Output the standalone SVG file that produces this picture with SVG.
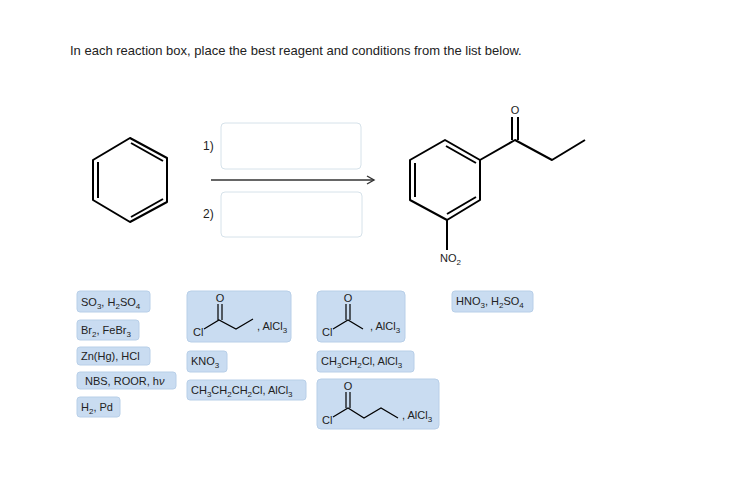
<svg xmlns="http://www.w3.org/2000/svg" width="754" height="494" viewBox="0 0 754 494">
<style>
text{font-family:"Liberation Sans",Arial,sans-serif;fill:#222}
.t{font-size:12px}
.s{font-size:11px}
.b{stroke:#000;stroke-width:2;fill:none;stroke-linejoin:round}
.m{stroke:#000;stroke-width:1.2;fill:none}
.chip{fill:#c9dcf1;stroke:#b8cfe8;stroke-width:1}
.slot{fill:#fff;stroke:#d6e2ea;stroke-width:1}
</style>
<defs><marker id="ah" markerWidth="10" markerHeight="10" refX="8" refY="5" orient="auto" markerUnits="userSpaceOnUse"><path d="M1,1 L8,5 L1,9" fill="none" stroke="#333" stroke-width="1.4"/></marker></defs>
<rect width="754" height="494" fill="#fff"/>
<text x="70" y="55" style="font-size:13px">In each reaction box, place the best reagent and conditions from the list below.</text>
<g id="benzene">
<path class="b" d="M130,138 L167,158 L167,202 L130,222 L93,200 L93,160 Z"/>
<path class="b" d="M98,162 L98,198 M131,143 L163,161 M163,199 L131,217"/>
</g>
<g id="slots">
<text x="203" y="150" class="t">1)</text>
<rect class="slot" x="221" y="123" width="140" height="46" rx="4"/>
<text x="203" y="218" class="t">2)</text>
<rect class="slot" x="221" y="192" width="141" height="45" rx="4"/>
</g>
<g id="connectors"><line x1="211" y1="180" x2="374" y2="180" stroke="#333" stroke-width="1.4" marker-end="url(#ah)"/></g>
<g id="product">
<path class="b" d="M445,140 L480,160 L480,200 L447,220 L410,200 L410,160 Z"/>
<path class="b" d="M415,163 L415,197 M446,146 L476,163 M476,197 L447,214"/>
<path class="b" d="M480,160 L515,140 L552,160 L585,140 M447,220 L447,250"/>
<path class="b" d="M512,140 L512,117 M518,140 L518,117"/>
<text x="515" y="114" text-anchor="middle" class="s">O</text>
<text x="440" y="262" class="s">NO<tspan font-size="8" dy="3">2</tspan></text>
</g>
<g id="r1"><rect class="chip" x="77" y="291" width="73" height="21" rx="3"/><text x="81" y="306" class="s">SO<tspan font-size="8" dy="3">3</tspan><tspan dy="-3">, H</tspan><tspan font-size="8" dy="3">2</tspan><tspan dy="-3">SO</tspan><tspan font-size="8" dy="3">4</tspan></text></g>
<g id="r2"><rect class="chip" x="77" y="320" width="62" height="20" rx="3"/><text x="81" y="334" class="s">Br<tspan font-size="8" dy="3">2</tspan><tspan dy="-3">, FeBr</tspan><tspan font-size="8" dy="3">3</tspan></text></g>
<g id="r3"><rect class="chip" x="77" y="347" width="73" height="18" rx="3"/><text x="81" y="360" class="s">Zn(Hg), HCl</text></g>
<g id="r4"><rect class="chip" x="77" y="372" width="99" height="17" rx="3"/><text x="85" y="385" class="s">NBS, ROOR, h<tspan font-style="italic">ν</tspan></text></g>
<g id="r5"><rect class="chip" x="77" y="397" width="43" height="20" rx="3"/><text x="81" y="411" class="s">H<tspan font-size="8" dy="3">2</tspan><tspan dy="-3">, Pd</tspan></text></g>
<g id="r6"><rect class="chip" x="187" y="291" width="104" height="51" rx="4"/>
<text x="193" y="336" class="s">Cl</text><path class="m" d="M204,329 L219,320 L236,329 L253,319 M218,320 L218,304 M222,320 L222,304"/><text x="220" y="302" text-anchor="middle" class="s">O</text>
<text x="257" y="330" class="s">, AlCl<tspan font-size="8" dy="3">3</tspan></text></g>
<g id="r7"><rect class="chip" x="187" y="351" width="40" height="21" rx="3"/><text x="191" y="365" class="s">KNO<tspan font-size="8" dy="3">3</tspan></text></g>
<g id="r8"><rect class="chip" x="187" y="380" width="119" height="20" rx="3"/><text x="191" y="394" class="s">CH<tspan font-size="8" dy="3">3</tspan><tspan dy="-3">CH</tspan><tspan font-size="8" dy="3">2</tspan><tspan dy="-3">CH</tspan><tspan font-size="8" dy="3">2</tspan><tspan dy="-3">Cl, AlCl</tspan><tspan font-size="8" dy="3">3</tspan></text></g>
<g id="r9"><rect class="chip" x="317" y="291" width="88" height="51" rx="4"/>
<text x="322" y="336" class="s">Cl</text><path class="m" d="M333,329 L348,320 L363,329 M346,320 L346,304 M350,320 L350,304"/><text x="348" y="302" text-anchor="middle" class="s">O</text>
<text x="370" y="330" class="s">, AlCl<tspan font-size="8" dy="3">3</tspan></text></g>
<g id="r10"><rect class="chip" x="317" y="351" width="97" height="21" rx="3"/><text x="321" y="365" class="s">CH<tspan font-size="8" dy="3">3</tspan><tspan dy="-3">CH</tspan><tspan font-size="8" dy="3">2</tspan><tspan dy="-3">Cl, AlCl</tspan><tspan font-size="8" dy="3">3</tspan></text></g>
<g id="r11"><rect class="chip" x="317" y="379" width="122" height="50" rx="4"/>
<text x="322" y="424" class="s">Cl</text><path class="m" d="M333,417 L348,408 L364,418 L381,408 L398,418 M346,408 L346,392 M350,408 L350,392"/><text x="348" y="390" text-anchor="middle" class="s">O</text>
<text x="402" y="419" class="s">, AlCl<tspan font-size="8" dy="3">3</tspan></text></g>
<g id="r12"><rect class="chip" x="452" y="291" width="81" height="21" rx="3"/><text x="456" y="305" class="s">HNO<tspan font-size="8" dy="3">3</tspan><tspan dy="-3">, H</tspan><tspan font-size="8" dy="3">2</tspan><tspan dy="-3">SO</tspan><tspan font-size="8" dy="3">4</tspan></text></g>
</svg>
